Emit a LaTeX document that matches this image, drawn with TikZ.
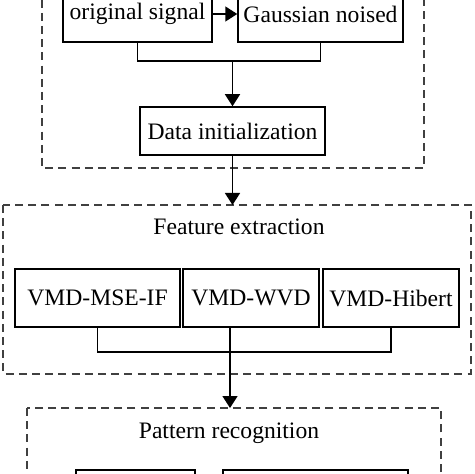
\documentclass[tikz,border=0pt]{standalone}
\usepackage{fontspec}
\setmainfont{Liberation Serif}
\usetikzlibrary{arrows.meta}
\tikzset{
  block/.style={draw, line width=0.75pt, inner sep=0pt, font=\fontsize{11.8}{13}\selectfont},
  title/.style={inner sep=0pt, font=\fontsize{11.8}{13}\selectfont},
  frame/.style={draw=black!75, line width=1pt, dash pattern=on 4pt off 2.6pt},
  flow/.style={-{Triangle[length=6pt,width=7.5pt]}, line width=0.75pt},
}
\begin{document}
\begin{tikzpicture}[x=0.5pt,y=-0.5pt]
    \clip (0,0) rectangle (474,474);
    % dashed frames
    \draw[frame] (42,-40) rectangle (424,168);
    \draw[frame] (3,205) rectangle (471,374);
    \draw[frame] (27,408) rectangle (441,530);
    \coordinate (fe) at (232.5,205);
    \coordinate (pr) at (230,408);
    \coordinate (j1) at (232.5,61);
    \coordinate (j2) at (230,352);
    % data
    \node[block, minimum width=74.5pt, minimum height=28pt] (orig) at (137.5,14) {original signal};
    \node[block, minimum width=82.5pt, minimum height=28pt] (noise) at (320.5,14) {Gaussian noised};
    \node[block, minimum width=92.5pt, minimum height=24pt] (init) at (232.5,131) {Data initialization};
    \draw[flow] (orig) -- (noise);
    \draw[line width=0.75pt] (orig.south) |- (j1) -| (noise.south);
    \draw[flow] (j1) -- (init.north);
    \draw[flow] (init.south) -- (fe);
    % features
    \node[title] (fetitle) at (239,227) {Feature extraction};
    \node[block, minimum width=82.5pt, minimum height=29pt] (mse) at (97.5,298) {VMD-MSE-IF};
    \node[block, minimum width=68pt, minimum height=29pt] (wvd) at (251,298) {VMD-WVD};
    \node[block, minimum width=68pt, minimum height=29pt] (hib) at (391,298) {VMD-Hibert};
    \draw[line width=0.75pt] (mse.south) |- (j2) -| (hib.south);
    \draw[flow] (wvd.south -| j2) -- (pr);
    % recognition
    \node[title] (prtitle) at (229,433) {Pattern recognition};
    \node[block, minimum width=59.5pt, minimum height=28pt] (p1) at (135.5,498) {};
    \node[block, minimum width=92.5pt, minimum height=28pt] (p2) at (315.5,498) {};
\end{tikzpicture}
\end{document}
